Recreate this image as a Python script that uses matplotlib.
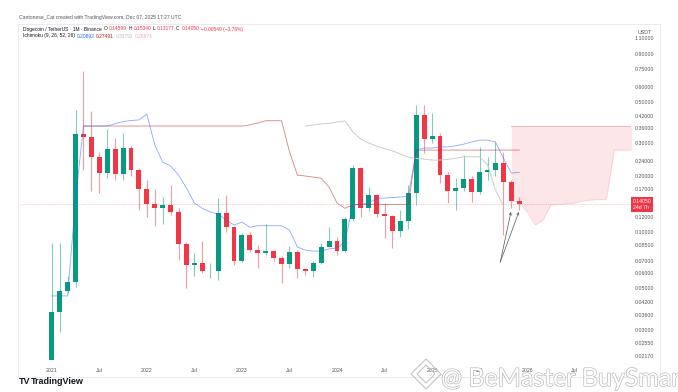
import numpy as np
import matplotlib.pyplot as plt
import matplotlib.transforms as mtransforms
import matplotlib.patheffects as pe
from matplotlib.patches import Rectangle, Polygon

plt.rcParams['font.family'] = ['Liberation Sans', 'DejaVu Sans']

# DOGE/USDT monthly candles, Jan 2021 .. Dec 2025
opens = [0.0047, 0.0374, 0.0485, 0.0541, 0.335, 0.324, 0.253, 0.208, 0.278, 0.204,
         0.281, 0.215, 0.171, 0.141, 0.134, 0.139, 0.128, 0.0862, 0.0668, 0.0685,
         0.0618, 0.062, 0.126, 0.1067, 0.0702, 0.0963, 0.08, 0.0774, 0.079, 0.0723,
         0.0671, 0.0784, 0.0631, 0.062, 0.0685, 0.0834, 0.0899, 0.0794, 0.117, 0.2196,
         0.134, 0.158, 0.125, 0.122, 0.1016, 0.1145, 0.161, 0.424, 0.315, 0.327,
         0.202, 0.166, 0.172, 0.192, 0.164, 0.2105, 0.215, 0.2336, 0.186, 0.14599]
highs = [0.0877, 0.0877, 0.058, 0.451, 0.733, 0.447, 0.27, 0.355, 0.318, 0.338,
         0.29, 0.22, 0.19, 0.171, 0.155, 0.178, 0.134, 0.0889, 0.0775, 0.0898,
         0.0684, 0.152, 0.158, 0.108, 0.099, 0.1, 0.085, 0.11, 0.08, 0.074,
         0.0843, 0.08, 0.0645, 0.07, 0.0876, 0.107, 0.094, 0.12, 0.229, 0.222,
         0.175, 0.16, 0.143, 0.124, 0.131, 0.178, 0.48, 0.48, 0.433, 0.34,
         0.21, 0.194, 0.259, 0.2, 0.287, 0.253, 0.305, 0.27, 0.19, 0.1534]
lows = [0.0045, 0.0292, 0.047, 0.0505, 0.215, 0.165, 0.161, 0.194, 0.19, 0.19,
        0.2, 0.132, 0.121, 0.108, 0.111, 0.124, 0.0707, 0.05, 0.058, 0.0605,
        0.0564, 0.055, 0.1, 0.0665, 0.069, 0.078, 0.064, 0.075, 0.07, 0.0536,
        0.064, 0.0565, 0.059, 0.0576, 0.067, 0.083, 0.075, 0.078, 0.115, 0.12,
        0.13, 0.12, 0.0924, 0.0817, 0.094, 0.104, 0.14, 0.264, 0.30, 0.183,
        0.143, 0.131, 0.165, 0.145, 0.16, 0.19, 0.2, 0.0964, 0.134, 0.13177]
closes = [0.0374, 0.0485, 0.0541, 0.335, 0.324, 0.253, 0.208, 0.278, 0.204, 0.281,
          0.215, 0.171, 0.141, 0.134, 0.139, 0.128, 0.0862, 0.0668, 0.0685, 0.0618,
          0.062, 0.126, 0.1067, 0.0702, 0.0963, 0.08, 0.0774, 0.079, 0.0723, 0.0671,
          0.0784, 0.0631, 0.062, 0.0685, 0.0834, 0.0899, 0.0794, 0.117, 0.2196, 0.134,
          0.158, 0.125, 0.122, 0.1016, 0.1145, 0.161, 0.424, 0.315, 0.327, 0.202,
          0.166, 0.172, 0.192, 0.164, 0.2105, 0.215, 0.2336, 0.186, 0.1466, 0.1405]

# ichimoku lines
conversion = [0.0454, 0.0454, 0.0454, 0.1485, 0.370, 0.370, 0.370, 0.370, 0.381, 0.391,
              0.396, 0.399, 0.429, 0.293, 0.237, 0.226, 0.202, 0.172, 0.143, 0.134,
              0.128, 0.125, 0.116, 0.109, 0.113, 0.106, 0.108, 0.108, 0.108, 0.108,
              0.1025, 0.0831, 0.080, 0.079, 0.079, 0.0812, 0.0822, 0.0884, 0.1396, 0.1407,
              0.143, 0.1516, 0.152, 0.153, 0.154, 0.155, 0.275, 0.282, 0.282, 0.286,
              0.286, 0.290, 0.296, 0.304, 0.311, 0.311, 0.304, 0.249, 0.207, 0.2089]
base = [None, None, None, None] + [0.370] * 21 + [0.375, 0.384, 0.395, 0.395, 0.395,
        0.269, 0.202, 0.1996, 0.197, 0.194, 0.174, 0.143, 0.134, 0.1396] + [0.1407] * 7 + [0.2749] * 14
span_start = 32
span_line = [0.370, 0.375, 0.380, 0.382, 0.389, 0.394, 0.344, 0.315, 0.300, 0.289,
             0.280, 0.272, 0.262, 0.252, 0.248, 0.246, 0.243, 0.243, 0.245, 0.249,
             0.253, 0.253, 0.253, 0.229, 0.168, 0.138]
cloud_start = 58
cloud_top = [0.370] * 17
cloud_bottom = [0.1485, 0.143, 0.128, 0.109, 0.116, 0.1396, 0.1407, 0.142, 0.143, 0.1466,
                0.1485, 0.149, 0.150, 0.275, 0.275, 0.275, 0.275]

last_price = 0.1405
price_ticks = [1.1, 0.9, 0.75, 0.6, 0.5, 0.42, 0.36, 0.3, 0.24, 0.2, 0.17, 0.12, 0.1,
               0.085, 0.07, 0.06, 0.05, 0.042, 0.036, 0.03, 0.0255, 0.0217]
time_ticks = [0, 6, 12, 18, 24, 30, 36, 42, 48, 54, 60, 66]
time_labels = ['2021', 'Jul', '2022', 'Jul', '2023', 'Jul', '2024', 'Jul', '2025', 'Jul', '2026', 'Jul']

UP = '#089981'
DOWN = '#F23645'
W, H = 678, 392

fig = plt.figure(figsize=(W / 100, H / 100), dpi=100)
fig.patch.set_facecolor('white')
ax = fig.add_axes([18 / W, 1 - 360 / H, (631 - 18) / W, (360 - 24) / H])
ax.set_yscale('log')

x = np.arange(len(closes))
o = np.array(opens)
c = np.array(closes)
cols = [UP if cc >= oo else DOWN for oo, cc in zip(o, c)]
ax.vlines(x, lows, highs, colors=cols, lw=0.8, alpha=0.5, zorder=2)
ax.bar(x, np.abs(c - o), bottom=np.minimum(o, c), width=0.62, color=cols, lw=0, zorder=2.5)

# ichimoku
xc = np.arange(cloud_start, cloud_start + len(cloud_top))
ax.fill_between(xc, cloud_bottom, cloud_top, color=DOWN, alpha=0.12, lw=0, zorder=1)
ax.plot(xc, cloud_top, color='#f08a95', lw=0.6, alpha=0.7, zorder=1.2)
ax.plot(xc, cloud_bottom, color='#f5b5bc', lw=0.5, alpha=0.6, zorder=1.2)
xs = np.arange(span_start, span_start + len(span_line))
ax.plot(xs, span_line, color='#c9cdc9', lw=0.7, zorder=3)
ax.plot(x, [np.nan if v is None else v for v in base], color='#B71C1C', lw=0.6, alpha=0.55, zorder=3)
ax.plot(x, conversion, color='#2962FF', lw=0.6, alpha=0.55, zorder=3.1)

# last price line and label
ax.axhline(last_price, color=DOWN, lw=0.5, ls=(0, (1, 1.5)), alpha=0.5, zorder=1.5)
tr = mtransforms.blended_transform_factory(ax.transAxes, ax.transData)
ax.text(1.003, last_price, '0.14050\n24d 7h', transform=tr, ha='left', va='center',
        fontsize=3.7, color='white', linespacing=1.3, clip_on=False,
        bbox=dict(boxstyle='square,pad=0.35', fc=DOWN, ec='none'))

# arrows pointing at the last two candles
for tip in [57.95, 58.95]:
    ax.annotate('', xy=(tip, 0.128), xytext=(56.6, 0.069),
                arrowprops=dict(arrowstyle='->', color='#555555', lw=0.5,
                                shrinkA=0, shrinkB=0, mutation_scale=4))

ax.set_xlim(-4.26, 73.1)
ax.set_ylim(0.02059, 1.304)
ax.yaxis.tick_right()
ax.yaxis.set_minor_locator(plt.NullLocator())
ax.set_yticks(price_ticks)
ax.set_yticklabels(['%.5f' % v for v in price_ticks])
ax.set_xticks(time_ticks)
ax.set_xticklabels(time_labels)
ax.tick_params(axis='y', length=0, pad=2.5, labelsize=3.8, labelcolor='#555555')
ax.tick_params(axis='x', length=0, pad=5.5, labelsize=3.8, labelcolor='#555555')
for s in ax.spines.values():
    s.set_visible(False)
ax.text(1.01, 0.975, 'USDT', transform=ax.transAxes, fontsize=3.8, color='#555555',
        ha='left', va='center')

# frame around chart
pix = mtransforms.IdentityTransform()
fig.patches.append(Rectangle((18, H - 377), 642, 353, fill=False, ec='#e6e8ee', lw=0.6,
                             transform=pix, figure=fig))

# header and legend
fig.text(19, H - 17, 'Cantonese_Cat created with TradingView.com, Dec 07, 2025 17:27 UTC',
         transform=pix, fontsize=3.6, color='#50535e', va='center')
r = fig.canvas.get_renderer()


def text_run(x0, y0, pieces, size=3.5):
    for s, col in pieces:
        t = fig.text(x0, y0, s, transform=pix, fontsize=size, color=col, va='center')
        x0 += t.get_window_extent(r).width + 1.6


dark = '#131722'
text_run(23, H - 29, [('Dogecoin / TetherUS · 1M · Binance', dark), ('O', dark), ('0.14599', DOWN),
                      ('H', dark), ('0.15340', DOWN), ('L', dark), ('0.13177', DOWN),
                      ('C', dark), ('0.14050', DOWN), ('−0.00549 (−3.76%)', DOWN)])
text_run(23, H - 36, [('Ichimoku (9, 26, 52, 26)', dark), ('0.20892', '#2962FF'),
                      ('0.27491', '#B71C1C'), ('0.33792', '#b9bdc6'), ('0.26674', '#f5a3ad')])

# TradingView logo
fig.text(19, H - 381, 'TV', transform=pix, fontsize=6.5, weight='bold', color='#131722', va='center')
fig.text(31, H - 381, 'TradingView', transform=pix, fontsize=6.5, weight='bold',
         color='#131722', va='center')

# watermark
cx, cy = 426, H - 374
for rad in [15, 9]:
    fig.patches.append(Polygon([(cx - rad, cy), (cx, cy + rad), (cx + rad, cy), (cx, cy - rad)],
                               closed=True, fill=False, ec='#c4c4c4', lw=0.8,
                               transform=pix, figure=fig))
fig.text(441, H - 386, '@ BeMaster BuySmart', transform=pix, fontsize=18, family='Lato',
         color='white', va='baseline',
         path_effects=[pe.Stroke(linewidth=0.9, foreground='#b5b5b5'), pe.Normal()])

fig.savefig('out.png', dpi=100)
